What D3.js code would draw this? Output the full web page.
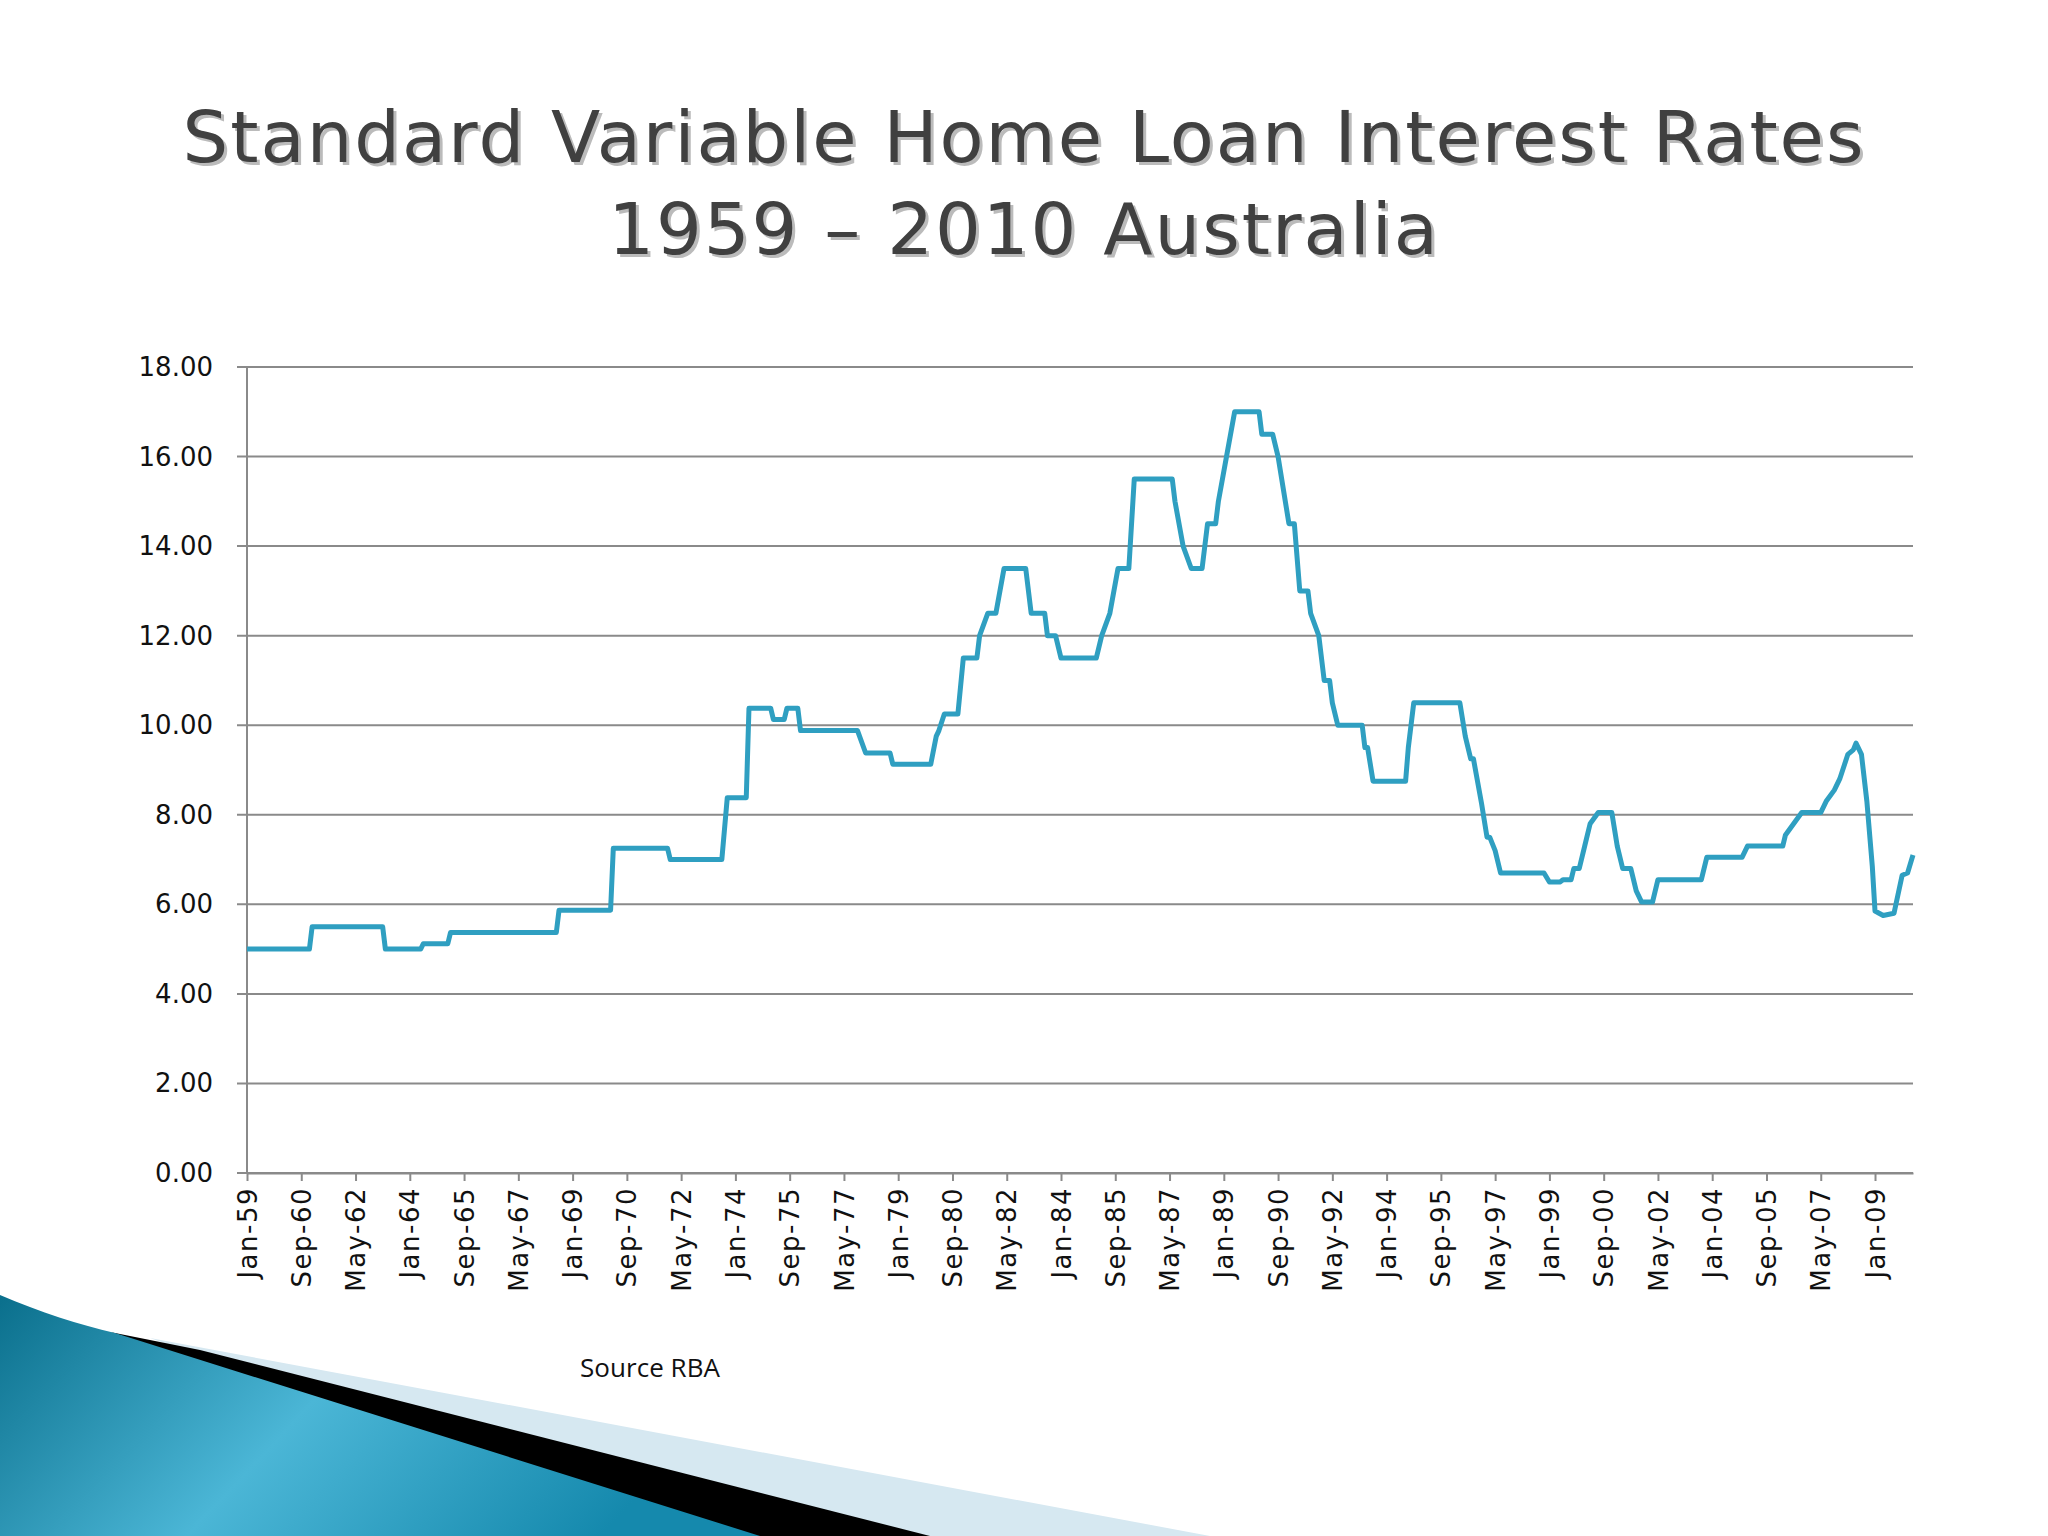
<!DOCTYPE html>
<html><head><meta charset="utf-8">
<script src="https://cdn.jsdelivr.net/npm/d3@7"></script>
<style>body{margin:0;background:#fff}svg{display:block}</style>
</head><body>
<script>
// month index (0 = Jan-59) and rate (%) at each vertex of the line
var months = [0,23,24,50,51,64,65,74,75,114,115,134,135,155,156,175,177,184,185,193,194,198,199,203,204,225,228,237,238,252,254,255,257,262,264,269,270,273,276,279,287,289,294,295,298,300,313,315,318,321,325,327,341,342,345,348,352,354,357,358,361,364,373,374,378,380,384,386,388,391,392,395,397,399,400,402,411,412,413,415,427,428,430,447,449,451,452,455,457,458,460,462,478,480,484,485,488,489,491,493,495,498,503,505,507,510,512,514,518,520,536,538,551,553,566,567,570,573,580,582,585,587,590,592,593,595,597,599,600,603,607,610,612,614];
var rates  = [5.0,5.0,5.5,5.5,5.0,5.0,5.12,5.12,5.37,5.37,5.87,5.87,7.25,7.25,7.0,7.0,8.38,8.38,10.38,10.38,10.13,10.13,10.38,10.38,9.88,9.88,9.38,9.38,9.13,9.13,9.75,9.88,10.25,10.25,11.5,11.5,12.0,12.5,12.5,13.5,13.5,12.5,12.5,12.0,12.0,11.5,11.5,12.0,12.5,13.5,13.5,15.5,15.5,15.0,14.0,13.5,13.5,14.5,14.5,15.0,16.0,17.0,17.0,16.5,16.5,16.0,14.5,14.5,13.0,13.0,12.5,12.0,11.0,11.0,10.5,10.0,10.0,9.5,9.5,8.75,8.75,9.5,10.5,10.5,9.75,9.25,9.25,8.25,7.5,7.5,7.2,6.7,6.7,6.5,6.5,6.55,6.55,6.8,6.8,7.3,7.8,8.05,8.05,7.3,6.8,6.8,6.3,6.05,6.05,6.55,6.55,7.05,7.05,7.3,7.3,7.55,7.8,8.05,8.05,8.3,8.55,8.8,9.35,9.45,9.6,9.35,8.3,6.85,5.85,5.75,5.8,6.65,6.7,7.1];
var tickLabels = ["Jan-59","Sep-60","May-62","Jan-64","Sep-65","May-67","Jan-69","Sep-70","May-72","Jan-74","Sep-75","May-77","Jan-79","Sep-80","May-82","Jan-84","Sep-85","May-87","Jan-89","Sep-90","May-92","Jan-94","Sep-95","May-97","Jan-99","Sep-00","May-02","Jan-04","Sep-05","May-07","Jan-09"];
var yTicks = [0,2,4,6,8,10,12,14,16,18];

var W = 2048, H = 1536;
var svg = d3.select("body").append("svg").attr("width", W).attr("height", H);

// bottom-left swoosh decoration
var defs = svg.append("defs");
var g1 = defs.append("linearGradient").attr("id","teal").attr("x1","0").attr("y1","0").attr("x2","1").attr("y2","0.3");
g1.append("stop").attr("offset","0").attr("stop-color","#0a6f8c");
g1.append("stop").attr("offset","0.5").attr("stop-color","#4bb6d6");
g1.append("stop").attr("offset","1").attr("stop-color","#1589ad");
svg.append("path").attr("fill","#d6e8f1")
  .attr("d","M150,1338 L1210,1536 L700,1536 Z");
svg.append("path").attr("fill","#000")
  .attr("d","M110,1332 L200,1350 L930,1536 L720,1536 Z");
svg.append("path").attr("fill","url(#teal)")
  .attr("d","M0,1295 C40,1312 80,1325 115,1333 L760,1536 L0,1536 Z");

// title
var title = svg.append("g").attr("font-family","DejaVu Sans, Verdana, sans-serif")
  .attr("font-size",72).attr("letter-spacing",2).attr("text-anchor","middle");
[["Standard Variable Home Loan Interest Rates",162],["1959 – 2010 Australia",254]].forEach(function(t){
  title.append("text").attr("x",1024).attr("y",t[1]+3).attr("dx",3).attr("fill","#bbb").text(t[0]);
  title.append("text").attr("x",1024).attr("y",t[1]).attr("fill","#404040").text(t[0]);
});

var mLeft = 247, mRight = 1913, mTop = 367, mBottom = 1173;
var x = d3.scaleLinear().domain([0,614]).range([mLeft, mRight]);
var y = d3.scaleLinear().domain([0,18]).range([mBottom, mTop]);

// gridlines
svg.append("g").selectAll("line").data(yTicks).join("line")
  .attr("x1", mLeft-10).attr("x2", mRight).attr("y1", d => y(d)).attr("y2", d => y(d))
  .attr("stroke","#8a8a8a").attr("stroke-width",2);

svg.append("g").attr("font-family","DejaVu Sans, Verdana, sans-serif").attr("font-size",26)
  .attr("fill","#111").attr("text-anchor","end")
  .selectAll("text").data(yTicks).join("text")
  .attr("x", mLeft-34).attr("y", d => y(d)+9).text(d => d.toFixed(2));

svg.append("line").attr("x1",mLeft).attr("x2",mLeft).attr("y1",mTop).attr("y2",mBottom)
  .attr("stroke","#8a8a8a").attr("stroke-width",2);

// x axis with custom tick labels
var xAxis = d3.axisBottom(x).tickValues(tickLabels.map((d,i) => i*20))
  .tickFormat((d,i) => tickLabels[i]).tickSize(8).tickSizeOuter(0);
var ax = svg.append("g").attr("transform","translate(0,"+mBottom+")").call(xAxis);
ax.select(".domain").attr("stroke","#8a8a8a").attr("stroke-width",2);
ax.selectAll(".tick line").attr("stroke","#8a8a8a").attr("stroke-width",2);
ax.selectAll(".tick text").attr("font-family","DejaVu Sans, Verdana, sans-serif").attr("font-size",26)
  .attr("letter-spacing",1.5)
  .attr("fill","#111").attr("transform","rotate(-90)").attr("text-anchor","end")
  .attr("x",-14).attr("y",0).attr("dy","0.35em");

// line
var pts = months.map((m,i) => [m, rates[i]]);
svg.append("path").datum(pts)
  .attr("fill","none").attr("stroke","#2f9fc1").attr("stroke-width",5).attr("stroke-linejoin","round")
  .attr("d", d3.line().x(d => x(d[0])).y(d => y(d[1])));

svg.append("text").attr("x",580).attr("y",1377).attr("font-family","Open Sans, sans-serif")
  .attr("font-size",26).attr("fill","#111").attr("textLength",140).text("Source RBA");
</script>
</body></html>
